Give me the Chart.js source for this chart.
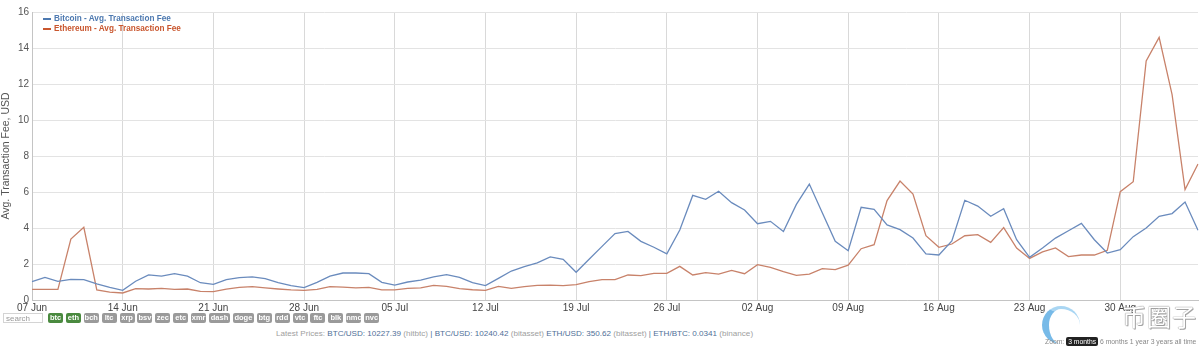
<!DOCTYPE html>
<html>
<head>
<meta charset="utf-8">
<script src="https://cdn.jsdelivr.net/npm/chart.js@4.4.1/dist/chart.umd.min.js"></script>
<style>
  body { margin: 0; width: 1200px; height: 346px; overflow: hidden; background: #fff;
         font-family: "Liberation Sans", Arial, sans-serif; position: relative; }
  #wrap { position: absolute; left: 0; top: 0; width: 1200px; height: 316px; }
  #legend { position: absolute; left: 43px; top: 14px; font-size: 8.2px; font-weight: bold; line-height: 10px; }
  #legend div span.dash { display: inline-block; width: 8px; height: 1.5px; vertical-align: middle; margin-right: 3px; }
  #search { position: absolute; left: 3px; top: 313px; width: 40px; height: 10px; border: 1px solid #d4d4d4;
            font-size: 8px; line-height: 10px; color: #999; padding-left: 2px; box-sizing: border-box; }
  #coins { position: absolute; left: 48px; top: 313px; display: flex; }
  #coins span { display: block; height: 10px; line-height: 10px; margin-right: 2.9px; font-size: 7.5px;
                font-weight: bold; color: #fff; background: #9a9a9a; text-align: center; border-radius: 2px; }
  #prices { position: absolute; left: 276px; top: 329px; font-size: 8.1px; white-space: nowrap; color: #4f6f98; }
  #prices .g { color: #a0a0a0; }
  #zoom { position: absolute; left: 1045px; top: 338px; font-size: 6.8px; white-space: nowrap; color: #888; }
  #zoom .on { background: #222; color: #fff; padding: 1px 2px; border-radius: 2px; }
  #mark { position: absolute; left: 1040px; top: 298px; width: 160px; height: 40px; pointer-events: none; }
  #mark .ring { position: absolute; left: 2px; top: 8px; width: 38px; height: 38px; border-radius: 50%;
                border-left: 7px solid #4aa3e0; border-top: 3px solid #8cc8ef; box-sizing: border-box; opacity: 0.75; }
  #mark .cn { position: absolute; left: 82px; top: 4px; font-family: "Noto Sans CJK SC"; font-size: 24px; line-height: 28px;
              color: #fff; text-shadow: 0 0 1px #888, 0 0 1px #888, 1px 1px 0 #aaa; letter-spacing: 1px; }
</style>
</head>
<body>
<div id="wrap"><canvas id="feeChart" width="1200" height="316"></canvas></div>
<div id="legend"></div>
<div id="search">search</div>
<div id="coins"></div>
<div id="prices"></div>
<div id="mark"><div class="ring"></div><div class="cn">币圈子</div></div>
<div id="zoom"></div>
<script>
// Daily categories, 07 Jun .. 05 Sep
const days = [
  '07 Jun','08 Jun','09 Jun','10 Jun','11 Jun','12 Jun','13 Jun','14 Jun','15 Jun','16 Jun','17 Jun','18 Jun',
  '19 Jun','20 Jun','21 Jun','22 Jun','23 Jun','24 Jun','25 Jun','26 Jun','27 Jun','28 Jun','29 Jun','30 Jun',
  '01 Jul','02 Jul','03 Jul','04 Jul','05 Jul','06 Jul','07 Jul','08 Jul','09 Jul','10 Jul','11 Jul','12 Jul',
  '13 Jul','14 Jul','15 Jul','16 Jul','17 Jul','18 Jul','19 Jul','20 Jul','21 Jul','22 Jul','23 Jul','24 Jul',
  '25 Jul','26 Jul','27 Jul','28 Jul','29 Jul','30 Jul','31 Jul',
  '01 Aug','02 Aug','03 Aug','04 Aug','05 Aug','06 Aug','07 Aug','08 Aug','09 Aug','10 Aug','11 Aug','12 Aug',
  '13 Aug','14 Aug','15 Aug','16 Aug','17 Aug','18 Aug','19 Aug','20 Aug','21 Aug','22 Aug','23 Aug','24 Aug',
  '25 Aug','26 Aug','27 Aug','28 Aug','29 Aug','30 Aug','31 Aug',
  '01 Sep','02 Sep','03 Sep','04 Sep','05 Sep'
];

// Weekly labels shown on the x axis
const tickLabels = ['07 Jun','14 Jun','21 Jun','28 Jun','05 Jul','12 Jul','19 Jul','26 Jul',
                    '02 Aug','09 Aug','16 Aug','23 Aug','30 Aug'];

const btcFee = [
  1.02, 1.26, 1.04, 1.15, 1.13, 0.89, 0.70, 0.54, 1.04, 1.40, 1.33, 1.46,
  1.33, 0.96, 0.87, 1.13, 1.24, 1.28, 1.19, 0.96, 0.80, 0.69, 0.98, 1.33,
  1.50, 1.50, 1.46, 0.98, 0.83, 1.00, 1.11, 1.28, 1.41, 1.26, 0.96, 0.80,
  1.20, 1.61, 1.85, 2.06, 2.39, 2.26, 1.54, 2.26, 2.98, 3.69, 3.81, 3.26,
  2.93, 2.56, 3.89, 5.81, 5.59, 6.04, 5.41,
  5.00, 4.24, 4.37, 3.81, 5.31, 6.44, 4.85, 3.26, 2.74, 5.15, 5.04, 4.17,
  3.91, 3.44, 2.56, 2.50, 3.28, 5.54, 5.22, 4.65, 5.07, 3.35, 2.37, 2.89,
  3.44, 3.85, 4.26, 3.35, 2.61, 2.80, 3.52,
  4.00, 4.65, 4.80, 5.44, 3.87
];

const ethFee = [
  0.59, 0.59, 0.59, 3.39, 4.04, 0.56, 0.44, 0.39, 0.63, 0.61, 0.65, 0.59,
  0.61, 0.48, 0.46, 0.61, 0.70, 0.74, 0.67, 0.61, 0.56, 0.54, 0.59, 0.74,
  0.72, 0.67, 0.70, 0.56, 0.56, 0.65, 0.67, 0.81, 0.76, 0.63, 0.57, 0.54,
  0.76, 0.65, 0.74, 0.81, 0.83, 0.80, 0.85, 1.02, 1.13, 1.13, 1.39, 1.35,
  1.48, 1.48, 1.87, 1.39, 1.52, 1.44, 1.65,
  1.46, 1.96, 1.81, 1.57, 1.37, 1.44, 1.74, 1.69, 1.94, 2.85, 3.07, 5.52,
  6.61, 5.89, 3.57, 2.93, 3.11, 3.57, 3.63, 3.20, 4.02, 2.89, 2.31, 2.67,
  2.89, 2.41, 2.50, 2.50, 2.76, 6.02, 6.57,
  13.28, 14.59, 11.41, 6.13, 7.56
];

const seriesNames = ['Bitcoin - Avg. Transaction Fee', 'Ethereum - Avg. Transaction Fee'];
const lineColors = ['#6a8bbd', '#c8826a'];
const legendColors = ['#4d79b0', '#c9562e'];

const coinList = ['btc','eth','bch','ltc','xrp','bsv','zec','etc','xmr','dash','doge','btg','rdd','vtc','ftc','blk','nmc','nvc'];
const activeCoins = ['btc','eth'];

// Legend
const legendEl = document.getElementById('legend');
seriesNames.forEach((name, i) => {
    const row = document.createElement('div');
    row.style.color = legendColors[i];
    row.innerHTML = `<span class="dash" style="background:${legendColors[i]}"></span>${name}`;
    legendEl.appendChild(row);
});

// Coin buttons
const coinsEl = document.getElementById('coins');
coinList.forEach(c => {
    const b = document.createElement('span');
    b.textContent = c;
    b.style.width = (c.length > 3 ? 21 : 15) + 'px';
    if (activeCoins.includes(c)) b.style.background = '#4a8a3f';
    coinsEl.appendChild(b);
});

document.getElementById('prices').innerHTML =
    '<span class="g">Latest Prices: </span>BTC/USD: 10227.39 <span class="g">(hitbtc)</span> | ' +
    'BTC/USD: 10240.42 <span class="g">(bitasset)</span> ETH/USD: 350.62 <span class="g">(bitasset)</span> | ' +
    'ETH/BTC: 0.0341 <span class="g">(binance)</span>';

document.getElementById('zoom').innerHTML =
    'Zoom: <span class="on">3 months</span> 6 months 1 year 3 years all time';

const tickFont = { size: 10, family: '"Liberation Sans", Arial, sans-serif' };

// Chart
const ctx = document.getElementById('feeChart').getContext('2d');
new Chart(ctx, {
    type: 'line',
    data: {
        labels: days,
        datasets: [
            { label: seriesNames[0], data: btcFee, borderColor: lineColors[0], borderWidth: 1.3, pointRadius: 0, tension: 0 },
            { label: seriesNames[1], data: ethFee, borderColor: lineColors[1], borderWidth: 1.3, pointRadius: 0, tension: 0 }
        ]
    },
    options: {
        responsive: false,
        animation: false,
        layout: { padding: { top: 12, right: 2, left: 0, bottom: 0 } },
        plugins: { legend: { display: false }, tooltip: { enabled: false } },
        scales: {
            x: {
                grid: {
                    drawTicks: false,
                    color: c => tickLabels.includes(days[c.index]) ? '#d9d9d9' : 'transparent'
                },
                border: { color: '#c4c4c4' },
                ticks: {
                    autoSkip: false,
                    maxRotation: 0,
                    padding: 2,
                    color: '#444',
                    font: tickFont,
                    callback: (v, i) => tickLabels.includes(days[i]) ? days[i] : ''
                },
                afterFit: axis => { axis.height = 16; }
            },
            y: {
                min: 0,
                max: 16,
                ticks: {
                    stepSize: 2,
                    padding: 3,
                    color: '#555',
                    font: tickFont
                },
                grid: { drawTicks: false, color: '#e3e3e3' },
                border: { color: '#c4c4c4' },
                title: {
                    display: true,
                    text: 'Avg. Transaction Fee, USD',
                    color: '#555',
                    padding: 0,
                    font: { size: 10.5, family: '"Liberation Sans", Arial, sans-serif' }
                },
                afterFit: axis => { axis.width = 32; }
            }
        }
    }
});
</script>
</body>
</html>
